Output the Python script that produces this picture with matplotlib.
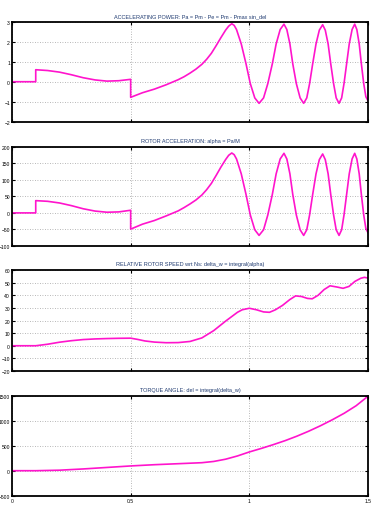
import matplotlib
matplotlib.use('Agg')
import matplotlib.pyplot as plt

# Valores (tiempo en s)
t_pa = [0, 0.1, 0.1, 0.15, 0.2, 0.25, 0.3, 0.35, 0.4, 0.45, 0.5, 0.5,
        0.55, 0.6, 0.65, 0.7, 0.725, 0.75, 0.775, 0.8, 0.82, 0.84, 0.86,
        0.88, 0.9, 0.913, 0.926, 0.936,
        0.946, 0.966, 0.986, 1.004, 1.023, 1.041,
        1.060, 1.078, 1.097, 1.113, 1.130, 1.146,
        1.158, 1.171, 1.183, 1.198, 1.214, 1.229,
        1.242, 1.254, 1.267, 1.281, 1.295, 1.309,
        1.320, 1.332, 1.343, 1.355, 1.366, 1.378,
        1.389, 1.399, 1.410, 1.421, 1.433, 1.444,
        1.453, 1.463, 1.472, 1.482, 1.491, 1.5]
pa = [0, 0, 0.6, 0.56, 0.48, 0.35, 0.2, 0.09, 0.03, 0.05, 0.12, -0.78,
      -0.55, -0.37, -0.15, 0.1, 0.25, 0.43, 0.63, 0.87, 1.12, 1.42, 1.8,
      2.2, 2.58, 2.78, 2.9, 2.82,
      2.61, 1.89, 0.9, -0.09, -0.81, -1.08,
      -0.81, -0.09, 0.9, 1.89, 2.61, 2.88,
      2.61, 1.89, 0.9, -0.09, -0.81, -1.08,
      -0.81, -0.09, 0.9, 1.89, 2.58, 2.85,
      2.58, 1.89, 0.9, -0.09, -0.81, -1.08,
      -0.81, -0.09, 0.9, 1.89, 2.61, 2.88,
      2.61, 1.89, 0.9, -0.09, -0.75, -0.95]

alpha = [0, 0, 37, 35, 30, 22, 12.5, 5.5, 2, 3, 8, -49,
         -34, -23, -9, 6, 16, 27, 39, 54, 70, 89, 113,
         138, 161, 174, 181, 176,
         163, 118, 56, -6, -51, -68,
         -51, -6, 56, 118, 163, 180,
         163, 118, 56, -6, -51, -68,
         -51, -6, 56, 118, 161, 178,
         161, 118, 56, -6, -51, -68,
         -51, -6, 56, 118, 163, 180,
         163, 118, 56, -6, -47, -60]

t_w = [0, 0.1, 0.15, 0.2, 0.25, 0.3, 0.35, 0.4, 0.45, 0.5, 0.53, 0.56, 0.6,
       0.65, 0.7, 0.75, 0.8, 0.85, 0.9, 0.95, 0.97, 1.0, 1.03, 1.06, 1.085,
       1.11, 1.14, 1.17, 1.195, 1.22, 1.245, 1.265, 1.29, 1.315, 1.34, 1.37,
       1.395, 1.42, 1.445, 1.47, 1.485, 1.5]
delta_w = [0, 0, 1.2, 2.8, 4.0, 4.9, 5.4, 5.7, 5.9, 6.0, 5.0, 3.8, 2.9,
           2.4, 2.5, 3.4, 6.2, 12, 19.5, 26.5, 28.5, 29.7, 28.5, 26.8, 26.5,
           28.5, 32, 36.5, 39.5, 39, 37.5, 37.2, 40, 44.5, 47.5, 46.5,
           45.5, 47, 51, 53.5, 54.2, 53.6]

t_del = [0, 0.1, 0.2, 0.3, 0.4, 0.5, 0.6, 0.7, 0.8, 0.85, 0.9, 0.95, 1.0,
         1.05, 1.1, 1.15, 1.2, 1.25, 1.3, 1.35, 1.4, 1.45, 1.5]
delta = [0, 0, 10, 35, 65, 95, 120, 140, 160, 185, 230, 295, 375,
         445, 520, 600, 690, 790, 900, 1020, 1150, 1300, 1490]

titulos = ['ACCELERATING POWER: Pa = Pm - Pe = Pm - Pmax sin_del',
           'ROTOR ACCELERATION: alpha = Pa/M',
           'RELATIVE ROTOR SPEED wrt Ns: delta_w = integral(alpha)',
           'TORQUE ANGLE: del = integral(delta_w)']
limites = [(-2, 3, 1), (-100, 200, 50), (-20, 60, 10), (-500, 1500, 500)]
series = [(t_pa, pa), (t_pa, alpha), (t_w, delta_w), (t_del, delta)]
fondos = [0.7594, 0.5157, 0.2706, 0.0261]
altos = [0.196, 0.1947, 0.198, 0.196]

plt.rcParams['font.family'] = ['Liberation Sans', 'DejaVu Sans']
fig = plt.figure(figsize=(3.76, 5.10), dpi=100)

for i in range(4):
    ax = fig.add_axes([0.0319, fondos[i], 0.9468, altos[i]])
    x, y = series[i]
    ax.plot(x, y, color='#ff14cc', lw=1.2)
    lo, hi, paso = limites[i]
    ax.set_xlim(0, 1.5)
    ax.set_ylim(lo, hi)
    ax.set_xticks([0, 0.5, 1, 1.5])
    ax.set_yticks(range(lo, hi + 1, paso))
    ax.grid(True, color='#a0a0a0', linestyle=(0, (1, 2)), linewidth=0.6)
    ax.tick_params(direction='in', top=True, right=True, length=2.5,
                   width=0.8, labelsize=3.6, pad=1.5)
    if i < 3:
        ax.set_xticklabels([])
    else:
        ax.set_xticklabels(['0', '0.5', '1', '1.5'])
    for s in ax.spines.values():
        s.set_linewidth(1.3)
    ax.set_title(titulos[i], fontsize=4, color='#1f3a70', pad=3.5)

fig.savefig('out.png', dpi=100)
